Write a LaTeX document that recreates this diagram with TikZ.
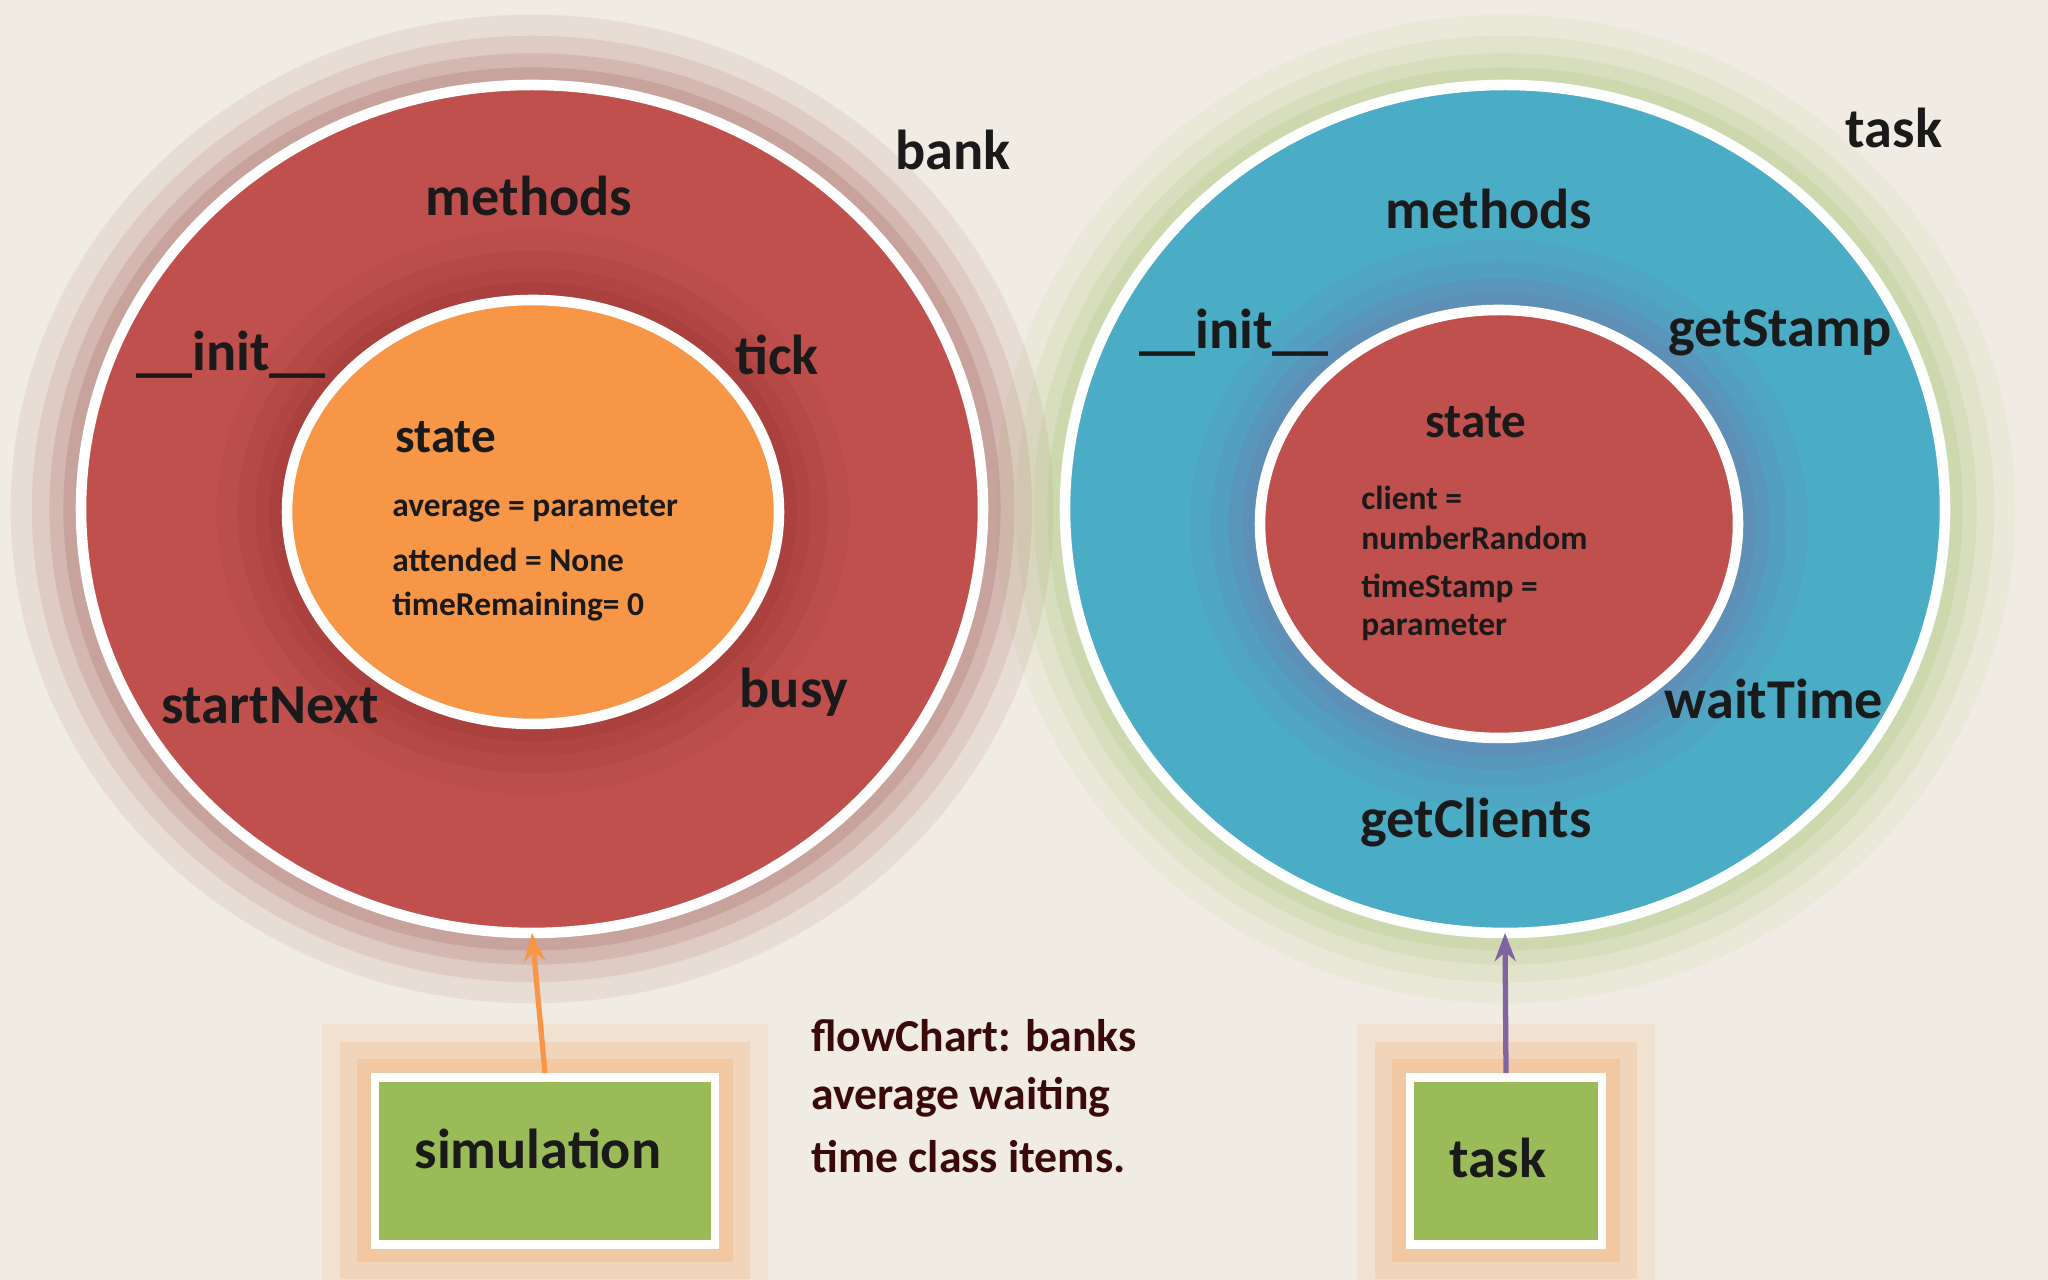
\documentclass[tikz,border=0pt]{standalone}
\usepackage{fontspec}
\setmainfont{Carlito}
\usetikzlibrary{arrows.meta}
\definecolor{bg}{HTML}{F0ECE4}
\definecolor{cred}{HTML}{C0504D}
\definecolor{corange}{HTML}{F79646}
\definecolor{cblue}{HTML}{4BACC6}
\definecolor{cgreen}{HTML}{9BBB59}
\definecolor{cpurple}{HTML}{8064A2}
\definecolor{glowred}{HTML}{8B2E2B}
\definecolor{txt}{HTML}{1A1A1A}
\definecolor{ftxt}{HTML}{3A0A0A}
\tikzset{
  x=0.01cm,y=0.01cm,
  big/.style={font=\bfseries\fontsize{16}{19}\selectfont,text=txt},
  st/.style={font=\bfseries\fontsize{14}{17}\selectfont,text=txt},
  sm/.style={font=\bfseries\fontsize{9.5}{12}\selectfont,text=txt,anchor=west},
  flow/.style={font=\bfseries\fontsize{13}{16}\selectfont,text=ftxt,anchor=west},
  boxs/.style={draw=white,line width=2.5pt,fill=cgreen,minimum width=#1,minimum height=167*0.01cm},
  conn/.style={-{Stealth[length=8pt,width=6pt]},line width=1.5pt}
}
\newcommand{\glowell}[5]{%
  \foreach \w/\o in {40/0.08,28/0.1,18/0.12,10/0.15}{\draw[#5,line width=\w pt,opacity=\o] (#1,#2) ellipse ({#3} and {#4});}}
\begin{document}
\begin{tikzpicture}
\fill[bg] (0,0) rectangle (2048,1280);
\useasboundingbox (0,0) rectangle (2048,1280);
% left
\glowell{532}{771}{451}{424}{glowred}
\draw[white,line width=3pt,fill=cred] (532,771) ellipse (451 and 424);
\glowell{533}{768}{246}{212}{glowred}
\draw[white,line width=3pt,fill=corange] (533,768) ellipse (246 and 212);
% right
\glowell{1505}{771}{440}{424}{cgreen}
\draw[white,line width=3pt,fill=cblue] (1505,771) ellipse (440 and 424);
\glowell{1499}{756}{239}{214}{cpurple}
\draw[white,line width=3pt,fill=cred] (1499,756) ellipse (239 and 214);
\coordinate (lb) at (532,347);
\coordinate (rb) at (1505,347);
% boxes
\foreach \w/\o in {30/0.12,20/0.15,10/0.2}{
 \draw[corange,line width=\w pt,opacity=\o] (375,36) rectangle (715,203);
 \draw[corange,line width=\w pt,opacity=\o] (1410,36) rectangle (1602,203);}
\node[boxs=340*0.01cm] (sim) at (545,119) {};
\node[boxs=192*0.01cm] (tk) at (1506,119) {};
\node[big] at (538,131) {simulation};
\node[big] at (1498,122) {task};
\draw[conn,corange] (sim.north) -- (lb);
\draw[conn,cpurple] (tk.north) -- (rb);
% left labels
\node[big] at (953,1130) {bank};
\node[big] at (529,1084) {methods};
\node[big] at (231,925) {\_\_init\_\_};
\node[big] at (777,925) {tick};
\node[st,anchor=west] at (383,843) {state};
\node[sm] at (380,771) {average = parameter};
\node[sm] at (380,720) {attended = None};
\node[sm] at (380,673) {timeRemaining= 0};
\node[big] at (270,575) {startNext};
\node[big] at (794,588) {busy};
% right labels
\node[big] at (1894,1152) {task};
\node[big] at (1489,1071) {methods};
\node[big] at (1234,947) {\_\_init\_\_};
\node[big] at (1780,947) {getStamp};
\node[st] at (1476,858) {state};
\node[sm] at (1349,782) {client =};
\node[sm] at (1349,742) {numberRandom};
\node[sm] at (1349,692) {timeStamp =};
\node[sm] at (1349,652) {parameter};
\node[big] at (1774,581) {waitTime};
\node[big] at (1476,457) {getClients};
% flow text
\node[flow] at (799,244) {flowChart: banks};
\node[flow] at (799,183) {average waiting};
\node[flow] at (799,123) {time class items.};
\end{tikzpicture}
\end{document}
